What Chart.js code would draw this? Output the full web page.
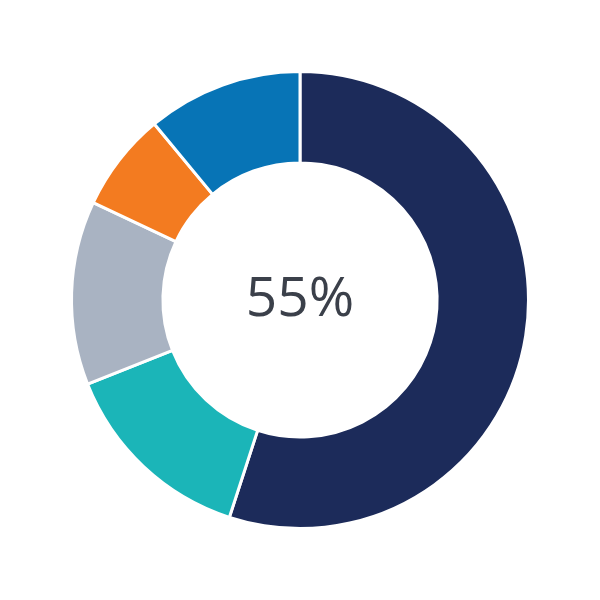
<!DOCTYPE html>
<html>
<head>
<meta charset="utf-8">
<script src="https://cdn.jsdelivr.net/npm/chart.js@4.4.0/dist/chart.umd.min.js"></script>
<style>
  html, body { margin: 0; padding: 0; background: #fff; }
  #wrap { position: relative; width: 600px; height: 600px; }
  #centerLabel {
    position: absolute; left: 0; top: -6px; width: 600px; height: 600px;
    display: flex; align-items: center; justify-content: center;
    font-family: "Open Sans", sans-serif; font-size: 55px; color: #3b404a;
    pointer-events: none;
  }
</style>
</head>
<body>
<div id="wrap">
  <canvas id="myChart" width="600" height="600"></canvas>
  <div id="centerLabel"></div>
</div>
<script>
const segments = ['A', 'B', 'C', 'D', 'E'];
const shares = [55, 14, 13, 7, 11];
const segmentColors = ['#1c2b5a', '#1bb5b8', '#a9b3c2', '#f37b20', '#0774b6'];
const centerText = '55%';

const initDonut = () => {
  const ctx = document.getElementById('myChart');
  document.getElementById('centerLabel').textContent = centerText;

  new Chart(ctx, {
    type: 'doughnut',
    data: {
      labels: segments,
      datasets: [
        {
          data: shares,
          backgroundColor: segmentColors,
          borderColor: '#ffffff',
          borderWidth: 3,
        },
      ],
    },
    options: {
      responsive: false,
      animation: false,
      cutout: '60%',
      layout: { padding: 70 },
      plugins: {
        legend: { display: false },
        tooltip: { enabled: false },
      },
    },
  });
};

initDonut();
</script>
</body>
</html>
